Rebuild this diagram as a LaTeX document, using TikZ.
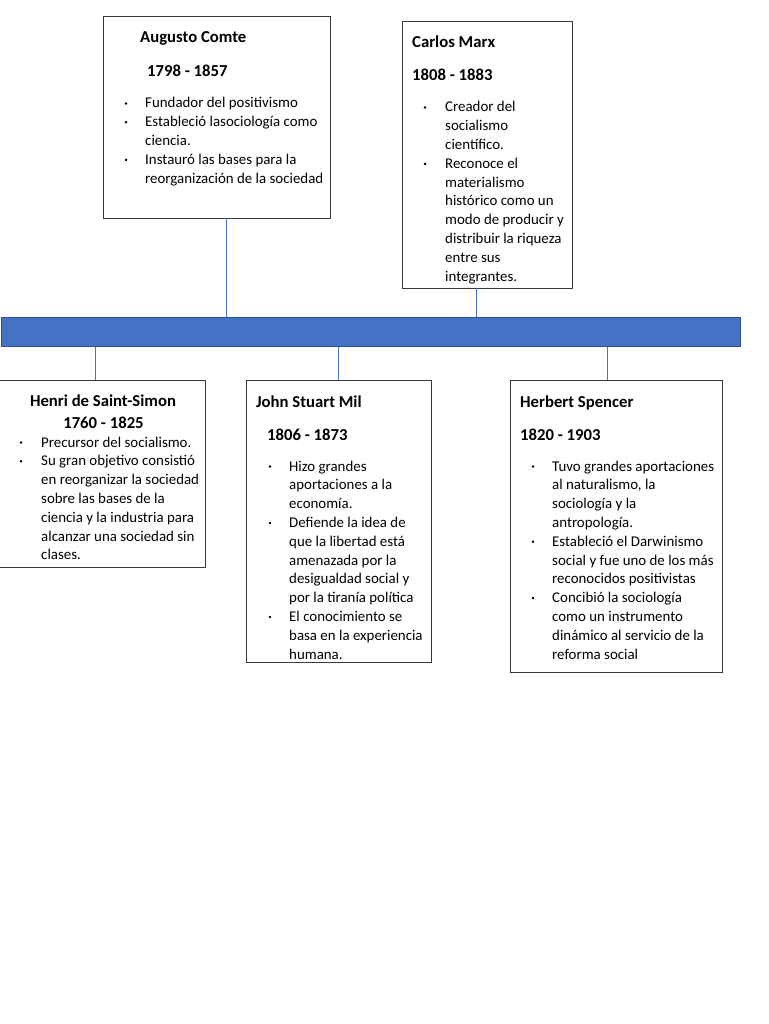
\documentclass[tikz,border=0pt]{standalone}
\usepackage{fontspec}
\setmainfont{Carlito}
\definecolor{barblue}{HTML}{4472C4}
\definecolor{bardark}{HTML}{2F528F}
\definecolor{boxline}{HTML}{3A3A3A}
\tikzset{
  card/.style={draw=boxline, line width=0.9pt, fill=white},
  ttl/.style={font=\bfseries\fontsize{16.7}{20}\selectfont, inner sep=0pt},
  body/.style={font=\fontsize{14.9}{18}\selectfont, inner sep=0pt, anchor=base west},
  dotb/.style={circle, fill=black, inner sep=0pt, minimum size=2.8pt},
  link/.style={draw=barblue, line width=0.9pt},
}
\newcommand\tlines[4]{%
  \foreach \t [count=\k] in {#4}
    \node[body, name=#1-l\k] at (#2, {#3+(\k-1)*18.8}) {\t};}
\newcommand\tbullets[4]{%
  \foreach \k in {#4}
    \node[dotb, name=#1-b\k] at (#2, {#3+(\k-1)*18.8-4.5}) {};}
\begin{document}
\begin{tikzpicture}[x=1pt,y=-1pt]
\useasboundingbox (0,0) rectangle (768,1024);
\fill[white] (0,0) rectangle (768,1024);

% timeline bar
\node[draw=bardark, fill=barblue, line width=1pt, inner sep=0pt, anchor=north west,
      minimum width=739.5pt, minimum height=29pt] (bar) at (0.5,317) {};

% boxes
\node[card, anchor=north west, inner sep=0pt, minimum width=227pt, minimum height=202pt] (comte) at (103,16) {};
\node[card, anchor=north west, inner sep=0pt, minimum width=170pt, minimum height=267pt] (marx) at (402,21) {};
\node[card, anchor=north west, inner sep=0pt, minimum width=211pt, minimum height=187pt] (henri) at (-6,380) {};
\node[card, anchor=north west, inner sep=0pt, minimum width=185pt, minimum height=282pt] (mill) at (246,380) {};
\node[card, anchor=north west, inner sep=0pt, minimum width=212pt, minimum height=292pt] (spencer) at (510,380) {};

% connectors
\coordinate (cc) at (226,218);
\coordinate (cm) at (476,288);
\draw[link] (cc) -- (cc |- bar.north);
\draw[link] (cm) -- (cm |- bar.north);
\coordinate (ch) at (95,380);
\coordinate (cj) at (338,380);
\coordinate (cs) at (607,380);
\draw[link] (ch |- bar.south) -- (ch);
\draw[link] (cj |- bar.south) -- (cj);
\draw[link] (cs |- bar.south) -- (cs);

% Augusto Comte
\node[ttl, anchor=base west] (comte-t) at (140,43) {Augusto Comte};
\node[ttl, anchor=base west] (comte-y) at (147,77) {1798 - 1857};
\tlines{comte}{145}{108}{Fundador del positivismo, Estableció lasociología como, ciencia., Instauró las bases para la, reorganización de la sociedad}
\tbullets{comte}{126}{108}{1,2,4}

% Carlos Marx
\node[ttl, anchor=base west] (marx-t) at (412,48) {Carlos Marx};
\node[ttl, anchor=base west] (marx-y) at (412,81) {1808 - 1883};
\tlines{marx}{445}{112}{Creador del, socialismo, científico., Reconoce el, materialismo, histórico como un, modo de producir y, distribuir la riqueza, entre sus, integrantes.}
\tbullets{marx}{425}{112}{1,4}

% Henri de Saint-Simon
\node[ttl, anchor=base] (henri-t) at (103,406) {Henri de Saint-Simon};
\node[ttl, anchor=base] (henri-y) at (103.5,428) {1760 - 1825};
\tlines{henri}{41}{447}{Precursor del socialismo., Su gran objetivo consistió, en reorganizar la sociedad, sobre las bases de la, ciencia y la industria para, alcanzar una sociedad sin, clases.}
\tbullets{henri}{21}{447}{1,2}

% John Stuart Mil
\node[ttl, anchor=base west] (mill-t) at (256,407) {John Stuart Mil};
\node[ttl, anchor=base west] (mill-y) at (267,440) {1806 - 1873};
\tlines{mill}{289}{471}{Hizo grandes, aportaciones a la, economía., Defiende la idea de, que la libertad está, amenazada por la, desigualdad social y, por la tiranía política, El conocimiento se, basa en la experiencia, humana.}
\tbullets{mill}{270}{471}{1,4,9}

% Herbert Spencer
\node[ttl, anchor=base west] (spencer-t) at (520,407) {Herbert Spencer};
\node[ttl, anchor=base west] (spencer-y) at (520,440) {1820 - 1903};
\tlines{spencer}{552}{471}{Tuvo grandes aportaciones, {al naturalismo, la}, sociología y la, antropología., Estableció el Darwinismo, social y fue uno de los más, reconocidos positivistas, Concibió la sociología, como un instrumento, dinámico al servicio de la, reforma social}
\tbullets{spencer}{533}{471}{1,5,8}
\end{tikzpicture}
\end{document}
